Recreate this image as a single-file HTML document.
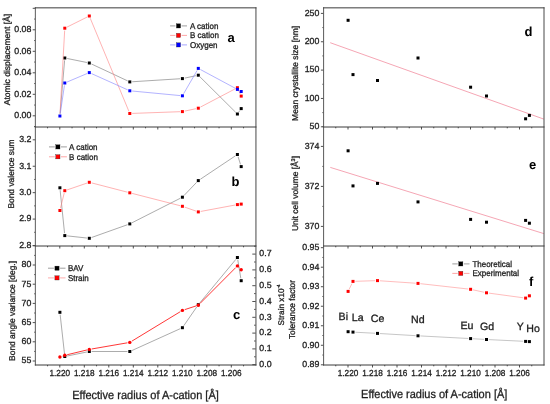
<!DOCTYPE html>
<html><head><meta charset="utf-8"><title>Figure</title>
<style>html,body{margin:0;padding:0;background:#fff;}body{width:550px;height:404px;overflow:hidden;}svg{display:block;}</style>
</head><body>
<svg width="550" height="404" viewBox="0 0 550 404" text-rendering="geometricPrecision">
<rect width="550" height="404" fill="#ffffff"/>
<path d="M60.1 113.61L64.6 60.39M67.15 58.48L86.95 62.52M91.47 64.01L127.63 80.89M132.2 81.75L180 78.75M184.75 78.1L195.95 75.7M200 76.89L235.7 112.31M238.78 112.04L239.82 110.56" fill="none" stroke="#747474" stroke-width="0.6"/>
<rect x="63.3" y="56.5" width="3" height="3" fill="#000"/>
<rect x="87.8" y="61.5" width="3" height="3" fill="#000"/>
<rect x="128.3" y="80.4" width="3" height="3" fill="#000"/>
<rect x="180.9" y="77.1" width="3" height="3" fill="#000"/>
<rect x="196.8" y="73.7" width="3" height="3" fill="#000"/>
<rect x="235.9" y="112.5" width="3" height="3" fill="#000"/>
<rect x="239.7" y="107.1" width="3" height="3" fill="#000"/>
<path d="M60.03 113.6L64.67 30.6M66.95 27.13L87.15 17.07M90.22 18.22L128.88 111.28M132.2 113.41L180 111.69M184.75 111.1L195.95 108.7M200.43 107.09L235.27 88.81M238.39 89.89L240.21 93.91" fill="none" stroke="#ff8080" stroke-width="0.6"/>
<rect x="63.3" y="26.7" width="3" height="3" fill="#f00"/>
<rect x="87.8" y="14.5" width="3" height="3" fill="#f00"/>
<rect x="128.3" y="112" width="3" height="3" fill="#f00"/>
<rect x="180.9" y="110.1" width="3" height="3" fill="#f00"/>
<rect x="196.8" y="106.7" width="3" height="3" fill="#f00"/>
<rect x="235.9" y="86.2" width="3" height="3" fill="#f00"/>
<rect x="239.7" y="94.6" width="3" height="3" fill="#f00"/>
<path d="M60.25 113.63L64.45 85.37M67.01 82.06L87.09 73.54M91.49 73.58L127.61 89.82M132.19 91.03L180.01 95.57M183.6 93.72L197.1 70.48M200.41 69.54L235.29 88.26" fill="none" stroke="#8080ff" stroke-width="0.6"/>
<rect x="58.4" y="114.5" width="3" height="3" fill="#00f"/>
<rect x="63.3" y="81.5" width="3" height="3" fill="#00f"/>
<rect x="87.8" y="71.1" width="3" height="3" fill="#00f"/>
<rect x="128.3" y="89.3" width="3" height="3" fill="#00f"/>
<rect x="180.9" y="94.3" width="3" height="3" fill="#00f"/>
<rect x="196.8" y="66.9" width="3" height="3" fill="#00f"/>
<rect x="235.9" y="87.9" width="3" height="3" fill="#00f"/>
<rect x="239.7" y="90" width="3" height="3" fill="#00f"/>
<path d="M60.14 190.19L64.56 233.21M67.19 235.86L86.91 238.04M91.56 237.5L127.54 224.7M131.94 222.81L180.26 198.29M184.06 195.47L196.64 182.33M200.3 179.27L235.4 155.83M238.12 156.79L240.48 164.31" fill="none" stroke="#747474" stroke-width="0.6"/>
<rect x="58.4" y="186.3" width="3" height="3" fill="#000"/>
<rect x="63.3" y="234.1" width="3" height="3" fill="#000"/>
<rect x="87.8" y="236.8" width="3" height="3" fill="#000"/>
<rect x="128.3" y="222.4" width="3" height="3" fill="#000"/>
<rect x="180.9" y="195.7" width="3" height="3" fill="#000"/>
<rect x="196.8" y="179.1" width="3" height="3" fill="#000"/>
<rect x="235.9" y="153" width="3" height="3" fill="#000"/>
<rect x="239.7" y="165.1" width="3" height="3" fill="#000"/>
<path d="M60.48 208.17L64.22 193.03M67.07 189.92L87.03 183.08M91.62 182.9L127.48 192.2M132.12 193.4L180.08 205.7M184.66 207.1L196.04 211.1M200.66 211.46L235.04 205.04" fill="none" stroke="#ff8080" stroke-width="0.6"/>
<rect x="58.4" y="209" width="3" height="3" fill="#f00"/>
<rect x="63.3" y="189.2" width="3" height="3" fill="#f00"/>
<rect x="87.8" y="180.8" width="3" height="3" fill="#f00"/>
<rect x="128.3" y="191.3" width="3" height="3" fill="#f00"/>
<rect x="180.9" y="204.8" width="3" height="3" fill="#f00"/>
<rect x="196.8" y="210.4" width="3" height="3" fill="#f00"/>
<rect x="235.9" y="203.1" width="3" height="3" fill="#f00"/>
<rect x="239.7" y="202.6" width="3" height="3" fill="#f00"/>
<path d="M60.16 314.69L64.54 354.11M67.15 356.02L86.95 351.98M91.7 351.5L127.4 351.5M131.99 350.51L180.21 328.69M183.76 325.73L196.94 306.67M199.83 302.85L235.87 259.35M237.79 259.87L240.81 278.33" fill="none" stroke="#747474" stroke-width="0.6"/>
<rect x="58.4" y="310.8" width="3" height="3" fill="#000"/>
<rect x="63.3" y="355" width="3" height="3" fill="#000"/>
<rect x="87.8" y="350" width="3" height="3" fill="#000"/>
<rect x="128.3" y="350" width="3" height="3" fill="#000"/>
<rect x="180.9" y="326.2" width="3" height="3" fill="#000"/>
<rect x="196.8" y="303.2" width="3" height="3" fill="#000"/>
<rect x="235.9" y="256" width="3" height="3" fill="#000"/>
<rect x="239.7" y="279.2" width="3" height="3" fill="#000"/>
<path d="M62.17 356.21L62.53 356.09M67.13 354.74L86.97 349.96M91.66 348.99L127.44 342.81M131.85 341.15L180.35 311.65M184.68 309.65L196.02 305.95M199.99 303.5L235.71 267.6M239.07 267.62L239.53 268.08" fill="none" stroke="#ff2020" stroke-width="0.9"/>
<circle cx="59.9" cy="357" r="1.7" fill="#f00"/>
<circle cx="64.8" cy="355.3" r="1.7" fill="#f00"/>
<circle cx="89.3" cy="349.4" r="1.7" fill="#f00"/>
<circle cx="129.8" cy="342.4" r="1.7" fill="#f00"/>
<circle cx="182.4" cy="310.4" r="1.7" fill="#f00"/>
<circle cx="198.3" cy="305.2" r="1.7" fill="#f00"/>
<circle cx="237.4" cy="265.9" r="1.7" fill="#f00"/>
<circle cx="241.2" cy="269.8" r="1.7" fill="#f00"/>
<line x1="330.2" y1="42.7" x2="543.8" y2="119.1" stroke="#f49cac" stroke-width="0.9"/>
<rect x="346.6" y="18.8" width="3" height="3" fill="#000"/>
<rect x="351.5" y="73.1" width="3" height="3" fill="#000"/>
<rect x="376" y="79" width="3" height="3" fill="#000"/>
<rect x="416.5" y="56.5" width="3" height="3" fill="#000"/>
<rect x="469.1" y="85.7" width="3" height="3" fill="#000"/>
<rect x="485" y="94.5" width="3" height="3" fill="#000"/>
<rect x="524.1" y="117.3" width="3" height="3" fill="#000"/>
<rect x="527.9" y="113.9" width="3" height="3" fill="#000"/>
<line x1="330.3" y1="167.4" x2="543.8" y2="233.6" stroke="#f49cac" stroke-width="0.9"/>
<rect x="346.6" y="149.3" width="3" height="3" fill="#000"/>
<rect x="351.5" y="184.4" width="3" height="3" fill="#000"/>
<rect x="376" y="181.9" width="3" height="3" fill="#000"/>
<rect x="416.5" y="200.4" width="3" height="3" fill="#000"/>
<rect x="469.1" y="217.9" width="3" height="3" fill="#000"/>
<rect x="485" y="220.7" width="3" height="3" fill="#000"/>
<rect x="524.1" y="218.9" width="3" height="3" fill="#000"/>
<rect x="527.9" y="221.7" width="3" height="3" fill="#000"/>
<path d="M355.4 332.23L375.1 333.27M379.9 333.54L415.6 335.66M420.4 335.93L468.2 338.47M473 338.74L484.1 339.36M488.9 339.62L523.2 341.28" fill="none" stroke="#a0a0a0" stroke-width="0.6"/>
<rect x="346.6" y="330.2" width="3" height="3" fill="#000"/>
<rect x="351.5" y="330.6" width="3" height="3" fill="#000"/>
<rect x="376" y="331.9" width="3" height="3" fill="#000"/>
<rect x="416.5" y="334.3" width="3" height="3" fill="#000"/>
<rect x="469.1" y="337.1" width="3" height="3" fill="#000"/>
<rect x="485" y="338" width="3" height="3" fill="#000"/>
<rect x="524.1" y="339.9" width="3" height="3" fill="#000"/>
<rect x="527.9" y="340.1" width="3" height="3" fill="#000"/>
<path d="M349.16 289.24L351.94 283.56M355.4 281.32L375.1 280.68M379.89 280.77L415.61 283.23M420.39 283.67L468.21 289.03M472.94 289.82L484.16 292.28M488.88 293.12L523.22 297.78" fill="none" stroke="#ff9090" stroke-width="0.6"/>
<rect x="346.6" y="289.9" width="3" height="3" fill="#f00"/>
<rect x="351.5" y="279.9" width="3" height="3" fill="#f00"/>
<rect x="376" y="279.1" width="3" height="3" fill="#f00"/>
<rect x="416.5" y="281.9" width="3" height="3" fill="#f00"/>
<rect x="469.1" y="287.8" width="3" height="3" fill="#f00"/>
<rect x="485" y="291.3" width="3" height="3" fill="#f00"/>
<rect x="524.1" y="296.6" width="3" height="3" fill="#f00"/>
<rect x="527.9" y="294.3" width="3" height="3" fill="#f00"/>
<g stroke="#505050" stroke-width="1" fill="none">
<line x1="35.4" y1="115.8" x2="32.7" y2="115.8"/>
<line x1="35.4" y1="94.3" x2="32.7" y2="94.3"/>
<line x1="35.4" y1="72.8" x2="32.7" y2="72.8"/>
<line x1="35.4" y1="51.3" x2="32.7" y2="51.3"/>
<line x1="35.4" y1="29.8" x2="32.7" y2="29.8"/>
<line x1="35.4" y1="8.3" x2="32.7" y2="8.3"/>
<line x1="35.4" y1="105.05" x2="34.2" y2="105.05"/>
<line x1="35.4" y1="83.55" x2="34.2" y2="83.55"/>
<line x1="35.4" y1="62.05" x2="34.2" y2="62.05"/>
<line x1="35.4" y1="40.55" x2="34.2" y2="40.55"/>
<line x1="35.4" y1="19.05" x2="34.2" y2="19.05"/>
<line x1="35.4" y1="126.55" x2="34.2" y2="126.55"/>
<line x1="35.4" y1="245.5" x2="32.7" y2="245.5"/>
<line x1="35.4" y1="219.08" x2="32.7" y2="219.08"/>
<line x1="35.4" y1="192.66" x2="32.7" y2="192.66"/>
<line x1="35.4" y1="166.24" x2="32.7" y2="166.24"/>
<line x1="35.4" y1="139.82" x2="32.7" y2="139.82"/>
<line x1="35.4" y1="232.29" x2="34.2" y2="232.29"/>
<line x1="35.4" y1="205.87" x2="34.2" y2="205.87"/>
<line x1="35.4" y1="179.45" x2="34.2" y2="179.45"/>
<line x1="35.4" y1="153.03" x2="34.2" y2="153.03"/>
<line x1="35.4" y1="126.61" x2="34.2" y2="126.61"/>
<line x1="35.4" y1="361" x2="32.7" y2="361"/>
<line x1="35.4" y1="341.8" x2="32.7" y2="341.8"/>
<line x1="35.4" y1="322.6" x2="32.7" y2="322.6"/>
<line x1="35.4" y1="303.4" x2="32.7" y2="303.4"/>
<line x1="35.4" y1="284.2" x2="32.7" y2="284.2"/>
<line x1="35.4" y1="265" x2="32.7" y2="265"/>
<line x1="35.4" y1="245.8" x2="32.7" y2="245.8"/>
<line x1="35.4" y1="351.4" x2="34.2" y2="351.4"/>
<line x1="35.4" y1="332.2" x2="34.2" y2="332.2"/>
<line x1="35.4" y1="313" x2="34.2" y2="313"/>
<line x1="35.4" y1="293.8" x2="34.2" y2="293.8"/>
<line x1="35.4" y1="274.6" x2="34.2" y2="274.6"/>
<line x1="35.4" y1="255.4" x2="34.2" y2="255.4"/>
<line x1="255.7" y1="364.7" x2="252.3" y2="364.7"/>
<line x1="255.7" y1="348.9" x2="252.3" y2="348.9"/>
<line x1="255.7" y1="333.1" x2="252.3" y2="333.1"/>
<line x1="255.7" y1="317.3" x2="252.3" y2="317.3"/>
<line x1="255.7" y1="301.5" x2="252.3" y2="301.5"/>
<line x1="255.7" y1="285.7" x2="252.3" y2="285.7"/>
<line x1="255.7" y1="269.9" x2="252.3" y2="269.9"/>
<line x1="255.7" y1="254.1" x2="252.3" y2="254.1"/>
<line x1="255.7" y1="356.8" x2="254.1" y2="356.8"/>
<line x1="255.7" y1="341" x2="254.1" y2="341"/>
<line x1="255.7" y1="325.2" x2="254.1" y2="325.2"/>
<line x1="255.7" y1="309.4" x2="254.1" y2="309.4"/>
<line x1="255.7" y1="293.6" x2="254.1" y2="293.6"/>
<line x1="255.7" y1="277.8" x2="254.1" y2="277.8"/>
<line x1="255.7" y1="262" x2="254.1" y2="262"/>
<line x1="255.7" y1="246.2" x2="254.1" y2="246.2"/>
<line x1="59.8" y1="127" x2="59.8" y2="129.5"/>
<line x1="84.3" y1="127" x2="84.3" y2="129.5"/>
<line x1="108.8" y1="127" x2="108.8" y2="129.5"/>
<line x1="133.3" y1="127" x2="133.3" y2="129.5"/>
<line x1="157.8" y1="127" x2="157.8" y2="129.5"/>
<line x1="182.3" y1="127" x2="182.3" y2="129.5"/>
<line x1="206.8" y1="127" x2="206.8" y2="129.5"/>
<line x1="231.3" y1="127" x2="231.3" y2="129.5"/>
<line x1="47.55" y1="127" x2="47.55" y2="128.3"/>
<line x1="72.05" y1="127" x2="72.05" y2="128.3"/>
<line x1="96.55" y1="127" x2="96.55" y2="128.3"/>
<line x1="121.05" y1="127" x2="121.05" y2="128.3"/>
<line x1="145.55" y1="127" x2="145.55" y2="128.3"/>
<line x1="170.05" y1="127" x2="170.05" y2="128.3"/>
<line x1="194.55" y1="127" x2="194.55" y2="128.3"/>
<line x1="219.05" y1="127" x2="219.05" y2="128.3"/>
<line x1="243.55" y1="127" x2="243.55" y2="128.3"/>
<line x1="59.8" y1="246" x2="59.8" y2="248.5"/>
<line x1="84.3" y1="246" x2="84.3" y2="248.5"/>
<line x1="108.8" y1="246" x2="108.8" y2="248.5"/>
<line x1="133.3" y1="246" x2="133.3" y2="248.5"/>
<line x1="157.8" y1="246" x2="157.8" y2="248.5"/>
<line x1="182.3" y1="246" x2="182.3" y2="248.5"/>
<line x1="206.8" y1="246" x2="206.8" y2="248.5"/>
<line x1="231.3" y1="246" x2="231.3" y2="248.5"/>
<line x1="47.55" y1="246" x2="47.55" y2="247.3"/>
<line x1="72.05" y1="246" x2="72.05" y2="247.3"/>
<line x1="96.55" y1="246" x2="96.55" y2="247.3"/>
<line x1="121.05" y1="246" x2="121.05" y2="247.3"/>
<line x1="145.55" y1="246" x2="145.55" y2="247.3"/>
<line x1="170.05" y1="246" x2="170.05" y2="247.3"/>
<line x1="194.55" y1="246" x2="194.55" y2="247.3"/>
<line x1="219.05" y1="246" x2="219.05" y2="247.3"/>
<line x1="243.55" y1="246" x2="243.55" y2="247.3"/>
<line x1="59.8" y1="365" x2="59.8" y2="367.5"/>
<line x1="84.3" y1="365" x2="84.3" y2="367.5"/>
<line x1="108.8" y1="365" x2="108.8" y2="367.5"/>
<line x1="133.3" y1="365" x2="133.3" y2="367.5"/>
<line x1="157.8" y1="365" x2="157.8" y2="367.5"/>
<line x1="182.3" y1="365" x2="182.3" y2="367.5"/>
<line x1="206.8" y1="365" x2="206.8" y2="367.5"/>
<line x1="231.3" y1="365" x2="231.3" y2="367.5"/>
<line x1="47.55" y1="365" x2="47.55" y2="366.3"/>
<line x1="72.05" y1="365" x2="72.05" y2="366.3"/>
<line x1="96.55" y1="365" x2="96.55" y2="366.3"/>
<line x1="121.05" y1="365" x2="121.05" y2="366.3"/>
<line x1="145.55" y1="365" x2="145.55" y2="366.3"/>
<line x1="170.05" y1="365" x2="170.05" y2="366.3"/>
<line x1="194.55" y1="365" x2="194.55" y2="366.3"/>
<line x1="219.05" y1="365" x2="219.05" y2="366.3"/>
<line x1="243.55" y1="365" x2="243.55" y2="366.3"/>
<line x1="323.6" y1="126.8" x2="320.9" y2="126.8"/>
<line x1="323.6" y1="98.45" x2="320.9" y2="98.45"/>
<line x1="323.6" y1="70.1" x2="320.9" y2="70.1"/>
<line x1="323.6" y1="41.75" x2="320.9" y2="41.75"/>
<line x1="323.6" y1="13.4" x2="320.9" y2="13.4"/>
<line x1="323.6" y1="112.62" x2="322.4" y2="112.62"/>
<line x1="323.6" y1="84.28" x2="322.4" y2="84.28"/>
<line x1="323.6" y1="55.92" x2="322.4" y2="55.92"/>
<line x1="323.6" y1="27.57" x2="322.4" y2="27.57"/>
<line x1="323.6" y1="226.4" x2="320.9" y2="226.4"/>
<line x1="323.6" y1="186.4" x2="320.9" y2="186.4"/>
<line x1="323.6" y1="146.4" x2="320.9" y2="146.4"/>
<line x1="323.6" y1="206.4" x2="322.4" y2="206.4"/>
<line x1="323.6" y1="166.4" x2="322.4" y2="166.4"/>
<line x1="323.6" y1="126.6" x2="322.4" y2="126.6"/>
<line x1="323.6" y1="364.8" x2="320.9" y2="364.8"/>
<line x1="323.6" y1="345.28" x2="320.9" y2="345.28"/>
<line x1="323.6" y1="325.76" x2="320.9" y2="325.76"/>
<line x1="323.6" y1="306.24" x2="320.9" y2="306.24"/>
<line x1="323.6" y1="286.72" x2="320.9" y2="286.72"/>
<line x1="323.6" y1="267.2" x2="320.9" y2="267.2"/>
<line x1="323.6" y1="247.68" x2="320.9" y2="247.68"/>
<line x1="323.6" y1="355.04" x2="322.4" y2="355.04"/>
<line x1="323.6" y1="335.52" x2="322.4" y2="335.52"/>
<line x1="323.6" y1="316" x2="322.4" y2="316"/>
<line x1="323.6" y1="296.48" x2="322.4" y2="296.48"/>
<line x1="323.6" y1="276.96" x2="322.4" y2="276.96"/>
<line x1="323.6" y1="257.44" x2="322.4" y2="257.44"/>
<line x1="348" y1="127" x2="348" y2="129.5"/>
<line x1="372.5" y1="127" x2="372.5" y2="129.5"/>
<line x1="397" y1="127" x2="397" y2="129.5"/>
<line x1="421.5" y1="127" x2="421.5" y2="129.5"/>
<line x1="446" y1="127" x2="446" y2="129.5"/>
<line x1="470.5" y1="127" x2="470.5" y2="129.5"/>
<line x1="495" y1="127" x2="495" y2="129.5"/>
<line x1="519.5" y1="127" x2="519.5" y2="129.5"/>
<line x1="335.75" y1="127" x2="335.75" y2="128.3"/>
<line x1="360.25" y1="127" x2="360.25" y2="128.3"/>
<line x1="384.75" y1="127" x2="384.75" y2="128.3"/>
<line x1="409.25" y1="127" x2="409.25" y2="128.3"/>
<line x1="433.75" y1="127" x2="433.75" y2="128.3"/>
<line x1="458.25" y1="127" x2="458.25" y2="128.3"/>
<line x1="482.75" y1="127" x2="482.75" y2="128.3"/>
<line x1="507.25" y1="127" x2="507.25" y2="128.3"/>
<line x1="531.75" y1="127" x2="531.75" y2="128.3"/>
<line x1="348" y1="246" x2="348" y2="248.5"/>
<line x1="372.5" y1="246" x2="372.5" y2="248.5"/>
<line x1="397" y1="246" x2="397" y2="248.5"/>
<line x1="421.5" y1="246" x2="421.5" y2="248.5"/>
<line x1="446" y1="246" x2="446" y2="248.5"/>
<line x1="470.5" y1="246" x2="470.5" y2="248.5"/>
<line x1="495" y1="246" x2="495" y2="248.5"/>
<line x1="519.5" y1="246" x2="519.5" y2="248.5"/>
<line x1="335.75" y1="246" x2="335.75" y2="247.3"/>
<line x1="360.25" y1="246" x2="360.25" y2="247.3"/>
<line x1="384.75" y1="246" x2="384.75" y2="247.3"/>
<line x1="409.25" y1="246" x2="409.25" y2="247.3"/>
<line x1="433.75" y1="246" x2="433.75" y2="247.3"/>
<line x1="458.25" y1="246" x2="458.25" y2="247.3"/>
<line x1="482.75" y1="246" x2="482.75" y2="247.3"/>
<line x1="507.25" y1="246" x2="507.25" y2="247.3"/>
<line x1="531.75" y1="246" x2="531.75" y2="247.3"/>
<line x1="348" y1="365" x2="348" y2="367.5"/>
<line x1="372.5" y1="365" x2="372.5" y2="367.5"/>
<line x1="397" y1="365" x2="397" y2="367.5"/>
<line x1="421.5" y1="365" x2="421.5" y2="367.5"/>
<line x1="446" y1="365" x2="446" y2="367.5"/>
<line x1="470.5" y1="365" x2="470.5" y2="367.5"/>
<line x1="495" y1="365" x2="495" y2="367.5"/>
<line x1="519.5" y1="365" x2="519.5" y2="367.5"/>
<line x1="335.75" y1="365" x2="335.75" y2="366.3"/>
<line x1="360.25" y1="365" x2="360.25" y2="366.3"/>
<line x1="384.75" y1="365" x2="384.75" y2="366.3"/>
<line x1="409.25" y1="365" x2="409.25" y2="366.3"/>
<line x1="433.75" y1="365" x2="433.75" y2="366.3"/>
<line x1="458.25" y1="365" x2="458.25" y2="366.3"/>
<line x1="482.75" y1="365" x2="482.75" y2="366.3"/>
<line x1="507.25" y1="365" x2="507.25" y2="366.3"/>
<line x1="531.75" y1="365" x2="531.75" y2="366.3"/>
</g>
<line x1="35.35" y1="7.35" x2="35.35" y2="365.5" stroke="#5a5a5a" stroke-width="1.0"/>
<line x1="255.95" y1="7.35" x2="255.95" y2="365.5" stroke="#484848" stroke-width="1.0"/>
<line x1="34.85" y1="7.85" x2="256.45" y2="7.85" stroke="#3a3a3a" stroke-width="1.0"/>
<line x1="34.85" y1="127" x2="256.45" y2="127" stroke="#3a3a3a" stroke-width="1.0"/>
<line x1="34.85" y1="246" x2="256.45" y2="246" stroke="#3a3a3a" stroke-width="1.0"/>
<line x1="34.85" y1="365" x2="256.45" y2="365" stroke="#3a3a3a" stroke-width="1.0"/>
<line x1="323.6" y1="7.35" x2="323.6" y2="365.5" stroke="#5a5a5a" stroke-width="1.0"/>
<line x1="544" y1="7.35" x2="544" y2="365.5" stroke="#484848" stroke-width="1.0"/>
<line x1="323.1" y1="7.85" x2="544.5" y2="7.85" stroke="#3a3a3a" stroke-width="1.0"/>
<line x1="323.1" y1="127" x2="544.5" y2="127" stroke="#3a3a3a" stroke-width="1.0"/>
<line x1="323.1" y1="246" x2="544.5" y2="246" stroke="#3a3a3a" stroke-width="1.0"/>
<line x1="323.1" y1="365" x2="544.5" y2="365" stroke="#3a3a3a" stroke-width="1.0"/>
<g font-family="Liberation Sans, Arial, sans-serif" fill="#1e1e1e" stroke="#1e1e1e" stroke-width="0.3">
<text x="31.4" y="118.1" text-anchor="end" font-size="8.8">0.00</text>
<text x="31.4" y="96.6" text-anchor="end" font-size="8.8">0.02</text>
<text x="31.4" y="75.1" text-anchor="end" font-size="8.8">0.04</text>
<text x="31.4" y="53.6" text-anchor="end" font-size="8.8">0.06</text>
<text x="31.4" y="32.1" text-anchor="end" font-size="8.8">0.08</text>
<text x="31.4" y="247.8" text-anchor="end" font-size="8.8">2.8</text>
<text x="31.4" y="221.38" text-anchor="end" font-size="8.8">2.9</text>
<text x="31.4" y="194.96" text-anchor="end" font-size="8.8">3.0</text>
<text x="31.4" y="168.54" text-anchor="end" font-size="8.8">3.1</text>
<text x="31.4" y="142.12" text-anchor="end" font-size="8.8">3.2</text>
<text x="31.4" y="363.3" text-anchor="end" font-size="8.8">55</text>
<text x="31.4" y="344.1" text-anchor="end" font-size="8.8">60</text>
<text x="31.4" y="324.9" text-anchor="end" font-size="8.8">65</text>
<text x="31.4" y="305.7" text-anchor="end" font-size="8.8">70</text>
<text x="31.4" y="286.5" text-anchor="end" font-size="8.8">75</text>
<text x="31.4" y="267.3" text-anchor="end" font-size="8.8">80</text>
<text x="259.3" y="367" text-anchor="start" font-size="8.8">0.0</text>
<text x="259.3" y="351.2" text-anchor="start" font-size="8.8">0.1</text>
<text x="259.3" y="335.4" text-anchor="start" font-size="8.8">0.2</text>
<text x="259.3" y="319.6" text-anchor="start" font-size="8.8">0.3</text>
<text x="259.3" y="303.8" text-anchor="start" font-size="8.8">0.4</text>
<text x="259.3" y="288" text-anchor="start" font-size="8.8">0.5</text>
<text x="259.3" y="272.2" text-anchor="start" font-size="8.8">0.6</text>
<text x="259.3" y="256.4" text-anchor="start" font-size="8.8">0.7</text>
<text x="319.4" y="129.1" text-anchor="end" font-size="8.8">50</text>
<text x="319.4" y="100.75" text-anchor="end" font-size="8.8">100</text>
<text x="319.4" y="72.4" text-anchor="end" font-size="8.8">150</text>
<text x="319.4" y="44.05" text-anchor="end" font-size="8.8">200</text>
<text x="319.4" y="15.7" text-anchor="end" font-size="8.8">250</text>
<text x="319.4" y="228.7" text-anchor="end" font-size="8.8">370</text>
<text x="319.4" y="188.7" text-anchor="end" font-size="8.8">372</text>
<text x="319.4" y="148.7" text-anchor="end" font-size="8.8">374</text>
<text x="319.4" y="367.1" text-anchor="end" font-size="8.8">0.89</text>
<text x="319.4" y="347.58" text-anchor="end" font-size="8.8">0.90</text>
<text x="319.4" y="328.06" text-anchor="end" font-size="8.8">0.91</text>
<text x="319.4" y="308.54" text-anchor="end" font-size="8.8">0.92</text>
<text x="319.4" y="289.02" text-anchor="end" font-size="8.8">0.93</text>
<text x="319.4" y="269.5" text-anchor="end" font-size="8.8">0.94</text>
<text x="319.4" y="249.98" text-anchor="end" font-size="8.8">0.95</text>
<text x="59.8" y="375.9" text-anchor="middle" font-size="8.8" textLength="20.6" lengthAdjust="spacingAndGlyphs">1.220</text>
<text x="348" y="375.9" text-anchor="middle" font-size="8.8" textLength="20.6" lengthAdjust="spacingAndGlyphs">1.220</text>
<text x="84.3" y="375.9" text-anchor="middle" font-size="8.8" textLength="20.6" lengthAdjust="spacingAndGlyphs">1.218</text>
<text x="372.5" y="375.9" text-anchor="middle" font-size="8.8" textLength="20.6" lengthAdjust="spacingAndGlyphs">1.218</text>
<text x="108.8" y="375.9" text-anchor="middle" font-size="8.8" textLength="20.6" lengthAdjust="spacingAndGlyphs">1.216</text>
<text x="397" y="375.9" text-anchor="middle" font-size="8.8" textLength="20.6" lengthAdjust="spacingAndGlyphs">1.216</text>
<text x="133.3" y="375.9" text-anchor="middle" font-size="8.8" textLength="20.6" lengthAdjust="spacingAndGlyphs">1.214</text>
<text x="421.5" y="375.9" text-anchor="middle" font-size="8.8" textLength="20.6" lengthAdjust="spacingAndGlyphs">1.214</text>
<text x="157.8" y="375.9" text-anchor="middle" font-size="8.8" textLength="20.6" lengthAdjust="spacingAndGlyphs">1.212</text>
<text x="446" y="375.9" text-anchor="middle" font-size="8.8" textLength="20.6" lengthAdjust="spacingAndGlyphs">1.212</text>
<text x="182.3" y="375.9" text-anchor="middle" font-size="8.8" textLength="20.6" lengthAdjust="spacingAndGlyphs">1.210</text>
<text x="470.5" y="375.9" text-anchor="middle" font-size="8.8" textLength="20.6" lengthAdjust="spacingAndGlyphs">1.210</text>
<text x="206.8" y="375.9" text-anchor="middle" font-size="8.8" textLength="20.6" lengthAdjust="spacingAndGlyphs">1.208</text>
<text x="495" y="375.9" text-anchor="middle" font-size="8.8" textLength="20.6" lengthAdjust="spacingAndGlyphs">1.208</text>
<text x="231.3" y="375.9" text-anchor="middle" font-size="8.8" textLength="20.6" lengthAdjust="spacingAndGlyphs">1.206</text>
<text x="519.5" y="375.9" text-anchor="middle" font-size="8.8" textLength="20.6" lengthAdjust="spacingAndGlyphs">1.206</text>
<text x="145.5" y="398.5" text-anchor="middle" font-size="11.8" textLength="146.6" lengthAdjust="spacingAndGlyphs">Effective radius of A-cation [Å]</text>
<text x="434.2" y="398.1" text-anchor="middle" font-size="11.8" textLength="146.2" lengthAdjust="spacingAndGlyphs">Effective radius of A-cation [Å]</text>
<text transform="translate(9.8,59.55) rotate(-90)" text-anchor="middle" font-size="8.5" textLength="91.3" lengthAdjust="spacingAndGlyphs">Atomic displacement [Å]</text>
<text transform="translate(13.6,174) rotate(-90)" text-anchor="middle" font-size="8.5" textLength="69.2" lengthAdjust="spacingAndGlyphs">Bond valence sum</text>
<text transform="translate(14.5,310.95) rotate(-90)" text-anchor="middle" font-size="8.5" textLength="99.9" lengthAdjust="spacingAndGlyphs">Bond angle variance [deg.]</text>
<text transform="translate(297.8,73.4) rotate(-90)" text-anchor="middle" font-size="8.5" textLength="95" lengthAdjust="spacingAndGlyphs">Mean crystallite size [nm]</text>
<text transform="translate(298.3,193.5) rotate(-90)" text-anchor="middle" font-size="8.5" textLength="75" lengthAdjust="spacingAndGlyphs">Unit cell volume [Å<tspan dy="-3" font-size="5.5">3</tspan><tspan dy="3">]</tspan></text>
<text transform="translate(295.4,309.55) rotate(-90)" text-anchor="middle" font-size="8.5" textLength="59.1" lengthAdjust="spacingAndGlyphs">Tolerance factor</text>
<text transform="translate(284.0,325.4) rotate(-90)" font-size="8.2"><tspan textLength="36.9" lengthAdjust="spacingAndGlyphs">Strain x10</tspan><tspan dy="-4.4" font-size="4.6">-4</tspan></text>
<path d="M170.1 25.9H175.4M181.6 25.9H187" stroke="#747474" stroke-width="0.7"/>
<rect x="176.4" y="23.8" width="4.2" height="4.2" fill="#000"/>
<text x="190" y="28.9" font-size="8.5" textLength="28.46" lengthAdjust="spacingAndGlyphs">A cation</text>
<path d="M170.1 35.4H175.4M181.6 35.4H187" stroke="#ff8080" stroke-width="0.7"/>
<rect x="176.4" y="33.3" width="4.2" height="4.2" fill="#f00"/>
<text x="190" y="38.4" font-size="8.5" textLength="28.91" lengthAdjust="spacingAndGlyphs">B cation</text>
<path d="M170.1 44.9H175.4M181.6 44.9H187" stroke="#8080ff" stroke-width="0.7"/>
<rect x="176.4" y="42.8" width="4.2" height="4.2" fill="#00f"/>
<text x="190" y="47.9" font-size="8.5" textLength="27.57" lengthAdjust="spacingAndGlyphs">Oxygen</text>
<path d="M49 146.9H54.8M61 146.9H66.9" stroke="#747474" stroke-width="0.7"/>
<rect x="55.8" y="144.8" width="4.2" height="4.2" fill="#000"/>
<text x="69.1" y="149.9" font-size="8.5" textLength="28.46" lengthAdjust="spacingAndGlyphs">A cation</text>
<path d="M49 156.8H54.8M61 156.8H66.9" stroke="#ff8080" stroke-width="0.7"/>
<rect x="55.8" y="154.7" width="4.2" height="4.2" fill="#f00"/>
<text x="69.1" y="159.8" font-size="8.5" textLength="28.91" lengthAdjust="spacingAndGlyphs">B cation</text>
<path d="M48 268.2H53.9M60.1 268.2H65.5" stroke="#747474" stroke-width="0.7"/>
<rect x="54.9" y="266.1" width="4.2" height="4.2" fill="#000"/>
<text x="67.9" y="271.2" font-size="8.5" textLength="15.41" lengthAdjust="spacingAndGlyphs">BAV</text>
<path d="M48 277.9H53.9M60.1 277.9H65.5" stroke="#ff8a8a" stroke-width="0.7"/>
<rect x="54.9" y="275.8" width="4.2" height="4.2" fill="#f00"/>
<text x="67.9" y="280.9" font-size="8.5" textLength="20.9" lengthAdjust="spacingAndGlyphs">Strain</text>
<path d="M452.3 263.9H457.7M463.9 263.9H469.5" stroke="#747474" stroke-width="0.7"/>
<rect x="458.7" y="261.8" width="4.2" height="4.2" fill="#000"/>
<text x="472.4" y="266.9" font-size="8.5" textLength="39.57" lengthAdjust="spacingAndGlyphs">Theoretical</text>
<path d="M452.3 273.4H457.7M463.9 273.4H469.5" stroke="#ff8080" stroke-width="0.7"/>
<rect x="458.7" y="271.3" width="4.2" height="4.2" fill="#f00"/>
<text x="472.4" y="276.4" font-size="8.5" textLength="46.69" lengthAdjust="spacingAndGlyphs">Experimental</text>
<g font-weight="bold" font-size="13" fill="#000" stroke="none">
<text x="227.6" y="42.2">a</text>
<text x="231.5" y="186">b</text>
<text x="233" y="319.1">c</text>
<text x="524.5" y="36.3">d</text>
<text x="528.9" y="169.4">e</text>
<text x="528.9" y="285.8">f</text>
</g>
<g font-size="10.6" fill="#1a1a1a">
<text x="338.6" y="319.7">Bi</text>
<text x="351.8" y="321.4">La</text>
<text x="370.8" y="321.9">Ce</text>
<text x="411" y="322.7">Nd</text>
<text x="460.4" y="328.8">Eu</text>
<text x="479.9" y="330">Gd</text>
<text x="516.8" y="330">Y</text>
<text x="526.3" y="332.4">Ho</text>
</g>
</g>
</svg>
</body></html>
